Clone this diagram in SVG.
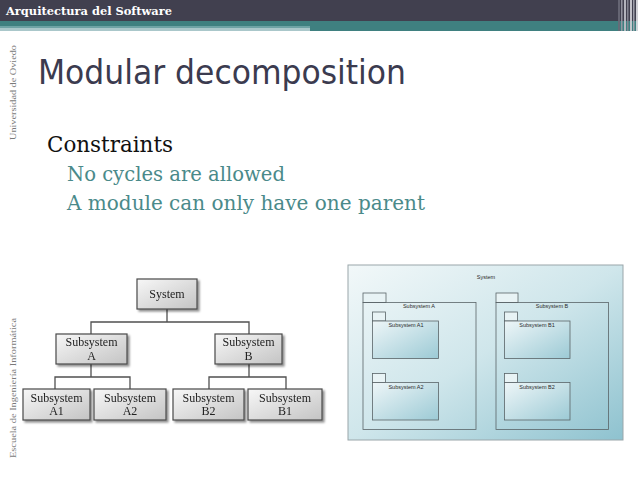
<svg xmlns="http://www.w3.org/2000/svg" width="638" height="478" viewBox="0 0 638 478">
<defs>
<linearGradient id="boxg" x1="0" y1="0" x2="1" y2="1">
<stop offset="0" stop-color="#f7f7f7"/>
<stop offset="1" stop-color="#c4c4c4"/>
</linearGradient>
<linearGradient id="panelg" x1="0" y1="0" x2="1" y2="1">
<stop offset="0" stop-color="#f2f8f9"/>
<stop offset="0.5" stop-color="#cfe6eb"/>
<stop offset="1" stop-color="#8ec2cf"/>
</linearGradient>
<linearGradient id="pkgg" x1="0" y1="0" x2="1" y2="1">
<stop offset="0" stop-color="#eef6f8"/>
<stop offset="1" stop-color="#9ccad5"/>
</linearGradient>
<filter id="sh" x="-10%" y="-10%" width="130%" height="140%">
<feGaussianBlur in="SourceAlpha" stdDeviation="1.2"/>
<feOffset dx="1.5" dy="2" result="o"/>
<feComponentTransfer><feFuncA type="linear" slope="0.45"/></feComponentTransfer>
<feMerge><feMergeNode/><feMergeNode in="SourceGraphic"/></feMerge>
</filter>
</defs>
<style>
.hdr{font-family:"DejaVu Serif","Liberation Serif",serif;font-weight:bold;font-size:11.5px;fill:#ffffff}
.side{font-family:"Liberation Serif","DejaVu Serif",serif;font-size:9px;fill:#7a7a7a}
.title{font-family:"DejaVu Sans","Liberation Sans",sans-serif;font-size:34px;fill:#3b3b4f}
.h2{font-family:"DejaVu Serif","Liberation Serif",serif;font-size:22px;fill:#111111}
.h3{font-family:"DejaVu Serif","Liberation Serif",serif;font-size:20px;fill:#4a8a8a}
.box{fill:url(#boxg);stroke:#4a4a4a;stroke-width:1.2}
.bt{font-family:"Liberation Serif","DejaVu Serif",serif;font-size:12px;fill:#222222;text-anchor:middle}
.conn{fill:none;stroke:#505050;stroke-width:1.3}
.pk{fill:none;stroke:#5a6468;stroke-width:0.8}
.pkf{fill:url(#pkgg);stroke:#5a6468;stroke-width:0.8}
.tab{fill:#e8f3f5;stroke:#5a6468;stroke-width:0.8}
.pt{font-family:"Liberation Sans","DejaVu Sans",sans-serif;font-size:5.5px;fill:#2a2a2a;text-anchor:middle}
</style>
<rect width="638" height="478" fill="#ffffff"/>
<!-- header -->
<rect x="0" y="0" width="638" height="21" fill="#41404f"/>
<rect x="0" y="21" width="638" height="10" fill="#3f8080"/>
<rect x="0" y="26" width="310" height="2" fill="#6fa3a5"/>
<rect x="0" y="28" width="310" height="3" fill="#aac7ca"/>
<g opacity="0.9">
<rect x="618" y="0" width="2" height="31" fill="#6a6a78"/>
<rect x="621" y="0" width="1.5" height="31" fill="#9a9aa6"/>
<rect x="624" y="0" width="2" height="31" fill="#c0c0c8"/>
<rect x="627" y="0" width="1.5" height="31" fill="#8a8a96"/>
<rect x="630" y="0" width="2" height="31" fill="#d0d0d6"/>
<rect x="633" y="0" width="1.5" height="31" fill="#a8a8b2"/>
<rect x="636" y="0" width="2" height="31" fill="#e0e0e4"/>
</g>
<text class="hdr" x="6" y="15" textLength="166" lengthAdjust="spacingAndGlyphs">Arquitectura del Software</text>
<!-- side texts -->
<text class="side" transform="translate(16,140) rotate(-90)" textLength="95" lengthAdjust="spacingAndGlyphs">Universidad de Oviedo</text>
<text class="side" transform="translate(16,458) rotate(-90)" textLength="140" lengthAdjust="spacingAndGlyphs">Escuela de Ingeniería Informática</text>
<!-- title and bullets -->
<text class="title" x="38" y="84" textLength="368" lengthAdjust="spacingAndGlyphs">Modular decomposition</text>
<text class="h2" x="47" y="152" textLength="126" lengthAdjust="spacingAndGlyphs">Constraints</text>
<text class="h3" x="67" y="181" textLength="218" lengthAdjust="spacingAndGlyphs">No cycles are allowed</text>
<text class="h3" x="67" y="210" textLength="358" lengthAdjust="spacingAndGlyphs">A module can only have one parent</text>
<!-- tree connectors -->
<g id="connectors">
<path class="conn" d="M167 309 V322 M91 334 V322 H249 V334"/>
<path class="conn" d="M91 364 V377 M55 389 V377 H130 V389"/>
<path class="conn" d="M249 364 V377 M209 389 V377 H286 V389"/>
</g>
<g id="system" filter="url(#sh)">
<rect class="box" x="137" y="279" width="60" height="30"/>
<text class="bt" x="167" y="298">System</text>
</g>
<g id="subsystemA" filter="url(#sh)">
<rect class="box" x="56" y="334" width="71" height="30"/>
<text class="bt" x="91.5" y="346">Subsystem</text>
<text class="bt" x="91.5" y="360">A</text>
</g>
<g id="subsystemB" filter="url(#sh)">
<rect class="box" x="215" y="334" width="67" height="30"/>
<text class="bt" x="248.5" y="346">Subsystem</text>
<text class="bt" x="248.5" y="360">B</text>
</g>
<g id="subsystemA1" filter="url(#sh)">
<rect class="box" x="23" y="389" width="67" height="31"/>
<text class="bt" x="56.5" y="402">Subsystem</text>
<text class="bt" x="56.5" y="415">A1</text>
</g>
<g id="subsystemA2" filter="url(#sh)">
<rect class="box" x="94" y="389" width="72" height="31"/>
<text class="bt" x="130" y="402">Subsystem</text>
<text class="bt" x="130" y="415">A2</text>
</g>
<g id="subsystemB2" filter="url(#sh)">
<rect class="box" x="173" y="389" width="71" height="31"/>
<text class="bt" x="208.5" y="402">Subsystem</text>
<text class="bt" x="208.5" y="415">B2</text>
</g>
<g id="subsystemB1" filter="url(#sh)">
<rect class="box" x="248" y="389" width="74" height="31"/>
<text class="bt" x="285" y="402">Subsystem</text>
<text class="bt" x="285" y="415">B1</text>
</g>
<!-- package diagram -->
<g id="pkg-system">
<rect x="348" y="265" width="275" height="175" fill="url(#panelg)" stroke="#9aa6aa" stroke-width="1"/>
<text class="pt" x="486" y="279">System</text>
</g>
<g id="pkg-A">
<rect class="tab" x="363" y="293" width="23" height="9.5"/>
<rect class="pk" x="363" y="302.5" width="113" height="127"/>
<text class="pt" x="419" y="308">Subsystem A</text>
</g>
<g id="pkg-A1">
<rect class="tab" x="372.5" y="312" width="13" height="9"/>
<rect class="pkf" x="372.5" y="321" width="66" height="37.5"/>
<text class="pt" x="406" y="327">Subsystem A1</text>
</g>
<g id="pkg-A2">
<rect class="tab" x="372.5" y="373.5" width="13" height="9"/>
<rect class="pkf" x="372.5" y="382.5" width="66" height="37.5"/>
<text class="pt" x="406" y="388.5">Subsystem A2</text>
</g>
<g id="pkg-B">
<rect class="tab" x="496" y="293" width="22" height="9.5"/>
<rect class="pk" x="496" y="302.5" width="112.5" height="127"/>
<text class="pt" x="552" y="308">Subsystem B</text>
</g>
<g id="pkg-B1">
<rect class="tab" x="504.5" y="312" width="13" height="9"/>
<rect class="pkf" x="504.5" y="321" width="65.5" height="37.5"/>
<text class="pt" x="537" y="327">Subsystem B1</text>
</g>
<g id="pkg-B2">
<rect class="tab" x="504.5" y="373.5" width="13" height="9"/>
<rect class="pkf" x="504.5" y="382.5" width="65.5" height="37.5"/>
<text class="pt" x="537" y="388.5">Subsystem B2</text>
</g>
</svg>
